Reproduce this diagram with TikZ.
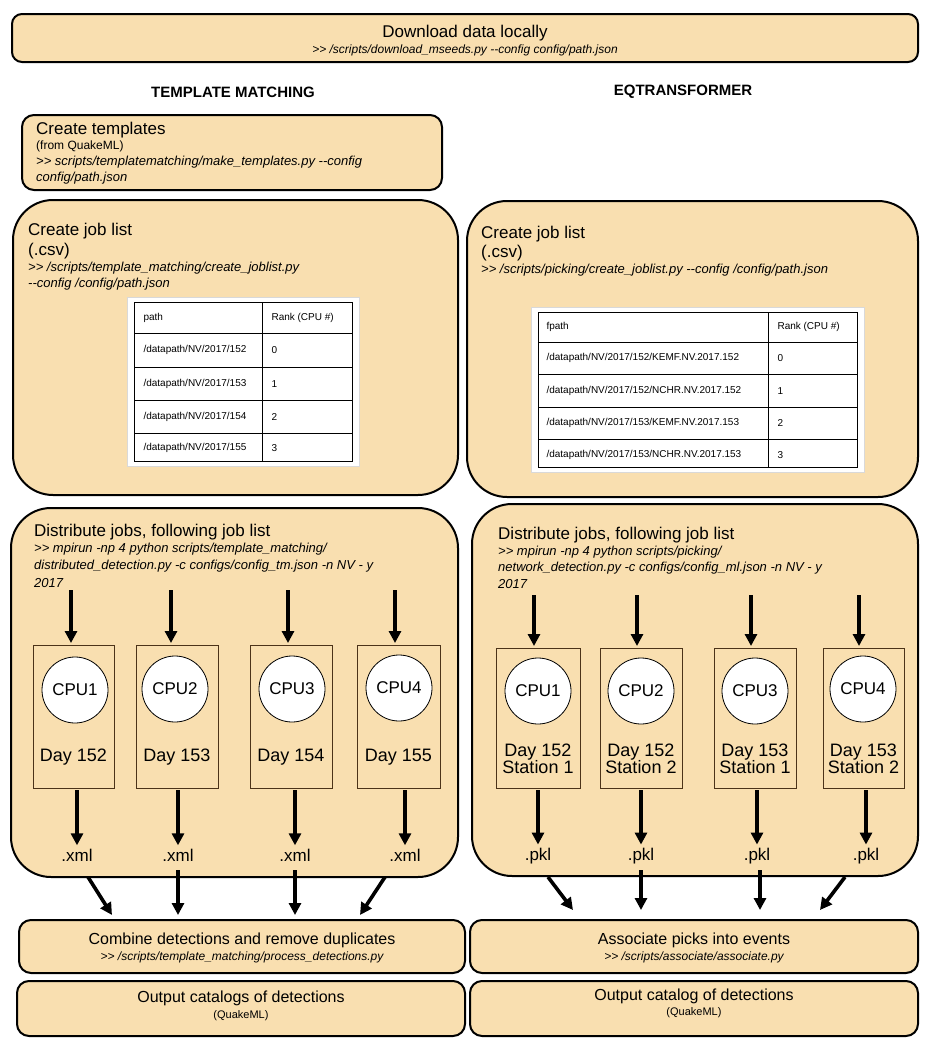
\documentclass[tikz,border=0pt]{standalone}
\usepackage{fontspec}
\setmainfont{Liberation Sans}
\usetikzlibrary{arrows.meta}
\definecolor{tan}{HTML}{F9DFB0}
\newcommand{\GGt}{{>}{>}}
\newcommand{\DDt}{-{}-}
\begin{document}
\begin{tikzpicture}[x=1pt,y=-1pt,
 box/.style={draw=black,line width=2pt,fill=tan},
 cpubox/.style={draw=black!60!brown,line width=0.6pt,fill=tan},
 cpu/.style={circle,draw=black,line width=0.8pt,fill=white,minimum size=66pt,inner sep=0pt,font=\fontsize{17}{19}\selectfont},
 arr/.style={line width=3.6pt,-{Triangle[length=12pt,width=12pt]}},
 big/.style={font=\fontsize{17}{19}\selectfont},
 cmd/.style={font=\fontsize{13}{16}\selectfont\itshape},
 small/.style={font=\fontsize{12}{14}\selectfont},
 tab/.style={font=\fontsize{10}{12}\selectfont,anchor=west},
 lt/.style={anchor=west,inner sep=0pt}]
\useasboundingbox (0,0) rectangle (926,1044);
% download
\draw[box,rounded corners=10pt] (12,14) rectangle (918,62);
\node[big] (dl) at (465,33) {Download data locally};
\node[font=\fontsize{12}{14}\selectfont\itshape] (dlc) at (465,50) {\GGt{} /scripts/download\_mseeds.py \DDt config config/path.json};
\node[font=\fontsize{15}{18}\selectfont\bfseries] (h1) at (233,92) {TEMPLATE MATCHING};
\node[font=\fontsize{15}{18}\selectfont\bfseries] (h2) at (683,92) {EQTRANSFORMER};
% create templates
\draw[box,rounded corners=12pt] (22,115) rectangle (442,190);
\node[lt,big] (ct) at (36,130) {Create templates};
\node[lt,small] (ct2) at (36,146) {(from QuakeML)};
\node[lt,cmd] (ct3) at (36,162) {\GGt{} scripts/templatematching/make\_templates.py \DDt config};
\node[lt,cmd] (ct4) at (36,178) {config/path.json};
% job list left
\draw[box,rounded corners=40pt] (13,200) rectangle (458,495);
\node[lt,big] (jl) at (28,231) {Create job list};
\node[lt,big] (jl2) at (28,251) {(.csv)};
\node[lt,cmd] (jl3) at (28,268) {\GGt{} /scripts/template\_matching/create\_joblist.py};
\node[lt,cmd] (jl4) at (28,284) {\DDt config /config/path.json};
\draw[fill=white,draw=white!85!black,line width=1pt] (127,297) rectangle (359,466);
\draw[line width=0.6pt] (134,302) rectangle (352,461);
\foreach \y in {333,367,400,433} \draw[line width=0.6pt] (134,\y) -- (352,\y);
\draw[line width=0.6pt] (262,302) -- (262,461);
\node[tab] (ta) at (140,318) {path};
\node[tab] (tb) at (268,318) {Rank (CPU \#)};
\foreach \t/\r/\y in {152/0/350,153/1/384,154/2/417,155/3/448}{
 \node[tab] at (140,\y) {/datapath/NV/2017/\t};
 \node[tab] at (268,\y) {\r};}
% job list right
\draw[box,rounded corners=40pt] (467,201) rectangle (918,497);
\node[lt,big] (jr) at (481,234) {Create job list};
\node[lt,big] (jr2) at (481,253) {(.csv)};
\node[lt,cmd] (jr3) at (481,270) {\GGt{} /scripts/picking/create\_joblist.py \DDt config /config/path.json};
\draw[fill=white,draw=white!85!black,line width=1pt] (531,307) rectangle (864,472);
\draw[line width=0.6pt] (538,312) rectangle (857,467);
\foreach \y in {342,374,407,439} \draw[line width=0.6pt] (538,\y) -- (857,\y);
\draw[line width=0.6pt] (768,312) -- (768,467);
\node[tab] (tc) at (543,327) {fpath};
\node[tab] (td) at (774,327) {Rank (CPU \#)};
\node[tab] at (543,358) {/datapath/NV/2017/152/KEMF.NV.2017.152};
\node[tab] at (543,391) {/datapath/NV/2017/152/NCHR.NV.2017.152};
\node[tab] at (543,423) {/datapath/NV/2017/153/KEMF.NV.2017.153};
\node[tab] at (543,455) {/datapath/NV/2017/153/NCHR.NV.2017.153};
\foreach \r/\y in {0/358,1/391,2/423,3/455} \node[tab] at (774,\y) {\r};
% distribute left
\draw[box,rounded corners=40pt] (11,508) rectangle (458,877);
\node[lt,big] (dj) at (34,532) {Distribute jobs, following job list};
\node[lt,cmd] (dj2) at (34,549) {\GGt{} mpirun -np 4 python scripts/template\_matching/};
\node[lt,cmd] (dj3) at (34,566) {distributed\_detection.py -c configs/config\_tm.json -n NV - y};
\node[lt,cmd] (dj4) at (34,583) {2017};
% distribute right
\draw[box,rounded corners=40pt] (472,504) rectangle (918,876);
\node[lt,big] (dr) at (498,535) {Distribute jobs, following job list};
\node[lt,cmd] (dr2) at (498,552) {\GGt{} mpirun -np 4 python scripts/picking/};
\node[lt,cmd] (dr3) at (498,568) {network\_detection.py -c configs/config\_ml.json -n NV - y};
\node[lt,cmd] (dr4) at (498,584) {2017};
% left CPUs
\foreach \i/\a/\b/\cx/\cy/\d/\xm in {1/33/114/75/690/152/77,2/136/218/175/689/153/178,3/250/332/292/689/154/295,4/357/440/399/688/155/405}{
 \draw[cpubox] (\a,645) rectangle (\b,788);
 \node[cpu] (lc\i) at (\cx,\cy) {CPU\i};
 \node[font=\fontsize{18}{20}\selectfont] (ld\i) at ({(\a+\b)/2},757) {Day \d};
 \coordinate (lin\i) at ({\cx-4},590);
 \coordinate (lint\i) at ({\cx-4},643);
 \coordinate (lo\i) at (\xm,790);
 \node[big] (lx\i) at (\xm,855) {.xml};
 \draw[arr] (lin\i) -- (lint\i);
 \draw[arr] (lo\i) -- (lx\i.north);
}
% right CPUs
\foreach \i/\a/\b/\cx/\cy/\d/\s/\xm in {1/496/580/538/691/152/1/538,2/600/682/641/691/152/2/641,3/714/796/755/691/153/1/757,4/823/904/863/689/153/2/866}{
 \draw[cpubox] (\a,648) rectangle (\b,788);
 \node[cpu] (rc\i) at (\cx,\cy) {CPU\i};
 \node[font=\fontsize{18}{20}\selectfont,align=center] (rd\i) at ({(\a+\b)/2},759) {Day \d\\[-3pt]Station \s};
 \coordinate (rin\i) at ({\cx-4},595);
 \coordinate (rint\i) at ({\cx-4},646);
 \coordinate (ro\i) at (\xm,790);
 \node[big] (rx\i) at (\xm,856) {.pkl};
 \draw[arr] (rin\i) -- (rint\i);
 \draw[arr] (ro\i) -- (rx\i.north);
}
% bottom boxes
\draw[box,rounded corners=12pt] (19,920) rectangle (465,973);
\node[font=\fontsize{16}{18}\selectfont] (cb) at (242,940) {Combine detections and remove duplicates};
\node[font=\fontsize{12}{14}\selectfont\itshape] (cb2) at (242,957) {\GGt{} /scripts/template\_matching/process\_detections.py};
\draw[box,rounded corners=12pt] (470,920) rectangle (918,973);
\node[font=\fontsize{16}{18}\selectfont] (as) at (694,940) {Associate picks into events};
\node[font=\fontsize{12}{14}\selectfont\itshape] (as2) at (694,957) {\GGt{} /scripts/associate/associate.py};
\draw[box,rounded corners=12pt] (17,981) rectangle (465,1036);
\node[font=\fontsize{16}{18}\selectfont] (oc) at (241,998) {Output catalogs of detections};
\node[font=\fontsize{11}{13}\selectfont] (oc2) at (241,1016) {(QuakeML)};
\draw[box,rounded corners=12pt] (470,981) rectangle (918,1036);
\node[font=\fontsize{16}{18}\selectfont] (or) at (694,996) {Output catalog of detections};
\node[font=\fontsize{11}{13}\selectfont] (or2) at (694,1013) {(QuakeML)};
% converging arrows
\coordinate (a1) at (88,877); \coordinate (b1) at (112,915);
\coordinate (a2) at (178,870); \coordinate (b2) at (178,915);
\coordinate (a3) at (295,870); \coordinate (b3) at (295,915);
\coordinate (a4) at (385,877); \coordinate (b4) at (360,915);
\coordinate (c1) at (548,877); \coordinate (d1) at (573,910);
\coordinate (c2) at (641,870); \coordinate (d2) at (641,910);
\coordinate (c3) at (760,870); \coordinate (d3) at (760,910);
\coordinate (c4) at (845,877); \coordinate (d4) at (820,910);
\foreach \i in {1,...,4}{\draw[arr] (a\i) -- (b\i); \draw[arr] (c\i) -- (d\i);}
\end{tikzpicture}
\end{document}
